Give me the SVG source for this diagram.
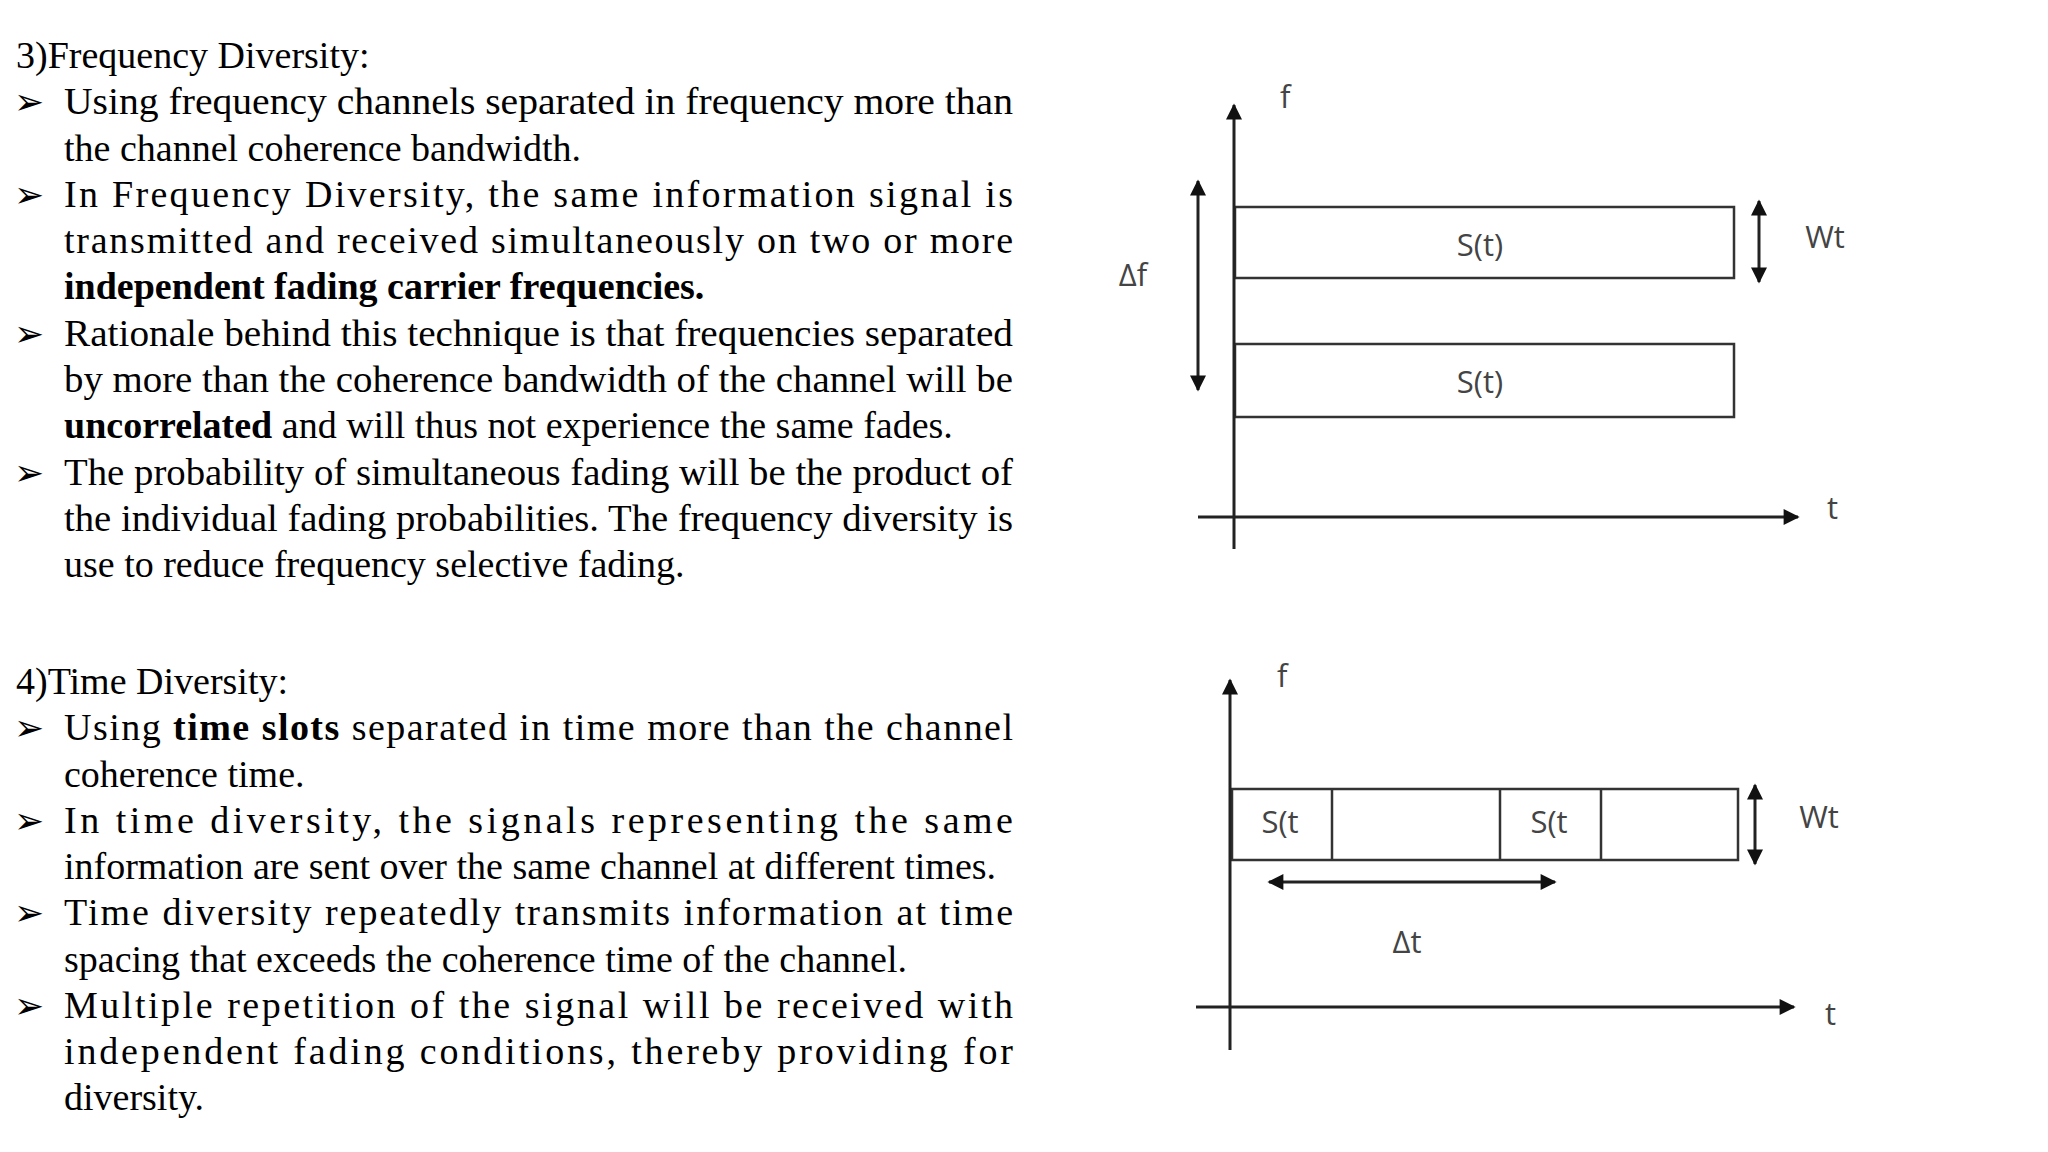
<svg xmlns="http://www.w3.org/2000/svg" width="2048" height="1152" viewBox="0 0 2048 1152">
<style>
.t{font-family:"Liberation Serif","Times New Roman",serif;font-size:38px;fill:#000}
.b{font-weight:bold}
.bl{font-family:"DejaVu Sans",sans-serif;font-size:36px;fill:#000}
.d{font-family:"Open Sans","Liberation Sans",sans-serif;font-size:31px;fill:#444}
.ax{stroke:#222;stroke-width:3;fill:none}
.bx{stroke:#333;stroke-width:2.5;fill:#fff}
</style>
<defs>
<marker id="ah" viewBox="0 0 10 10" refX="9" refY="5" markerWidth="18" markerHeight="16" markerUnits="userSpaceOnUse" orient="auto-start-reverse"><path d="M0,0 L10,5 L0,10 z" fill="#111"/></marker>
</defs>
<rect width="2048" height="1152" fill="#fff"/>
<g id="text">
<text class="t" x="16" y="68">3)Frequency Diversity:</text>
<text class="bl" x="14" y="114">➢</text>
<text class="t" x="64" y="114" textLength="949" lengthAdjust="spacingAndGlyphs">Using frequency channels separated in frequency more than</text>
<text class="t" x="64" y="161">the channel coherence bandwidth.</text>
<text class="bl" x="14" y="207">➢</text>
<text class="t" x="64" y="207" textLength="949" lengthAdjust="spacing">In Frequency Diversity, the same information signal is</text>
<text class="t" x="64" y="253" textLength="949" lengthAdjust="spacing">transmitted and received simultaneously on two or more</text>
<text class="t b" x="64" y="299">independent fading carrier frequencies.</text>
<text class="bl" x="14" y="346">➢</text>
<text class="t" x="64" y="346" textLength="949" lengthAdjust="spacingAndGlyphs">Rationale behind this technique is that frequencies separated</text>
<text class="t" x="64" y="392" textLength="949" lengthAdjust="spacingAndGlyphs">by more than the coherence bandwidth of the channel will be</text>
<text class="t" x="64" y="438"><tspan class="b">uncorrelated</tspan> and will thus not experience the same fades.</text>
<text class="bl" x="14" y="485">➢</text>
<text class="t" x="64" y="485" textLength="949" lengthAdjust="spacingAndGlyphs">The probability of simultaneous fading will be the product of</text>
<text class="t" x="64" y="531" textLength="949" lengthAdjust="spacingAndGlyphs">the individual fading probabilities. The frequency diversity is</text>
<text class="t" x="64" y="577">use to reduce frequency selective fading.</text>
<text class="t" x="16" y="694">4)Time Diversity:</text>
<text class="bl" x="14" y="740">➢</text>
<text class="t" x="64" y="740" textLength="949" lengthAdjust="spacing">Using <tspan class="b">time slots</tspan> separated in time more than the channel</text>
<text class="t" x="64" y="787">coherence time.</text>
<text class="bl" x="14" y="833">➢</text>
<text class="t" x="64" y="833" textLength="949" lengthAdjust="spacing">In time diversity, the signals representing the same</text>
<text class="t" x="64" y="879">information are sent over the same channel at different times.</text>
<text class="bl" x="14" y="925">➢</text>
<text class="t" x="64" y="925" textLength="949" lengthAdjust="spacing">Time diversity repeatedly transmits information at time</text>
<text class="t" x="64" y="972">spacing that exceeds the coherence time of the channel.</text>
<text class="bl" x="14" y="1018">➢</text>
<text class="t" x="64" y="1018" textLength="949" lengthAdjust="spacing">Multiple repetition of the signal will be received with</text>
<text class="t" x="64" y="1064" textLength="949" lengthAdjust="spacing">independent fading conditions, thereby providing for</text>
<text class="t" x="64" y="1110">diversity.</text>
</g>
<g transform="translate(-7,0)">
<g id="freq-diagram">
<g id="f1-rect1"><rect class="bx" x="1242" y="207" width="499" height="71"/><text class="d" x="1487" y="256" text-anchor="middle">S(t)</text></g>
<g id="f1-rect2"><rect class="bx" x="1242" y="344" width="499" height="73"/><text class="d" x="1487" y="393" text-anchor="middle">S(t)</text></g>
<text class="d" x="1287" y="108">f</text>
<text class="d" x="1834" y="519">t</text>
<text class="d" x="1140" y="286" text-anchor="middle">Δf</text>
<text class="d" x="1832" y="248" text-anchor="middle">Wt</text>
</g>
<g id="time-diagram">
<g id="t2-rect"><rect class="bx" x="1239" y="789" width="506" height="71"/>
<line class="bx" x1="1339" y1="789" x2="1339" y2="860"/><line class="bx" x1="1507" y1="789" x2="1507" y2="860"/><line class="bx" x1="1608" y1="789" x2="1608" y2="860"/>
<text class="d" x="1287" y="833" text-anchor="middle">S(t</text><text class="d" x="1556" y="833" text-anchor="middle">S(t</text></g>
<text class="d" x="1284" y="687">f</text>
<text class="d" x="1832" y="1025">t</text>
<text class="d" x="1414" y="953" text-anchor="middle">Δt</text>
<text class="d" x="1826" y="828" text-anchor="middle">Wt</text>
</g>
<g id="connectors">
<line class="ax" x1="1241" y1="549" x2="1241" y2="105" marker-end="url(#ah)"/>
<line class="ax" x1="1205" y1="517" x2="1805" y2="517" marker-end="url(#ah)"/>
<line class="ax" x1="1205" y1="181" x2="1205" y2="390" marker-start="url(#ah)" marker-end="url(#ah)"/>
<line class="ax" x1="1766" y1="201" x2="1766" y2="282" marker-start="url(#ah)" marker-end="url(#ah)"/>
<line class="ax" x1="1237" y1="1050" x2="1237" y2="680" marker-end="url(#ah)"/>
<line class="ax" x1="1203" y1="1007" x2="1801" y2="1007" marker-end="url(#ah)"/>
<line class="ax" x1="1276" y1="882" x2="1562" y2="882" marker-start="url(#ah)" marker-end="url(#ah)"/>
<line class="ax" x1="1762" y1="785" x2="1762" y2="864" marker-start="url(#ah)" marker-end="url(#ah)"/>
</g>
</g>
</svg>
